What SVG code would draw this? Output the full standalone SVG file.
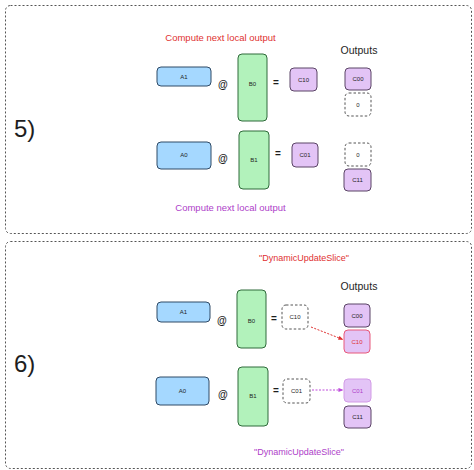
<svg xmlns="http://www.w3.org/2000/svg" width="474" height="470" viewBox="0 0 474 470">
<style>
text{font-family:"Liberation Sans",Arial,sans-serif;text-anchor:middle;dominant-baseline:central;fill:#1e1e1e}
.panel{fill:#fff;stroke:#555;stroke-width:1;stroke-dasharray:2 2}
.a{fill:#a5d8ff;stroke:#2f4a66;stroke-width:1}
.b{fill:#b2f2bb;stroke:#2f6a3a;stroke-width:1}
.c{fill:#e3c4f6;stroke:#5b4466;stroke-width:1}
.d{fill:#fff;stroke:#555;stroke-width:1;stroke-dasharray:2.5 2}
.lbl{font-size:6px}
.op{font-size:10px;font-weight:bold}
.num{font-size:24px;text-anchor:start}
.out{font-size:10.5px}
.red{fill:#e03131}
.pur{fill:#ae3ec9}
</style>
<defs>
<marker id="arR" viewBox="0 0 6 6" refX="5.5" refY="3" markerWidth="5" markerHeight="5" orient="auto"><path d="M0,0.5 L6,3 L0,5.5 z" fill="#e03131"/></marker>
<marker id="arP" viewBox="0 0 6 6" refX="5.5" refY="3" markerWidth="5" markerHeight="5" orient="auto"><path d="M0,0.5 L6,3 L0,5.5 z" fill="#be4bdb"/></marker>
</defs>

<rect class="panel" x="5.5" y="5.5" width="466" height="228" rx="5"/>
<rect class="panel" x="5.5" y="241.5" width="466" height="227" rx="5"/>

<!-- panel 5 -->
<text class="num" x="14" y="128">5)</text>
<text class="red" x="220.5" y="37" font-size="9.5">Compute next local output</text>
<text class="out" x="359" y="50">Outputs</text>
<text class="op" x="223" y="84">@</text>
<text class="op" x="276" y="82">=</text>
<text class="op" x="223" y="158">@</text>
<text class="op" x="278" y="153">=</text>
<text class="pur" x="230.5" y="207" font-size="9.5">Compute next local output</text>

<g id="p5_A1"><rect class="a" x="157" y="67" width="54" height="19" rx="4"/><text class="lbl" x="184" y="76.5">A1</text></g>
<g id="p5_B0"><rect class="b" x="238" y="54" width="29" height="67" rx="4"/><text class="lbl" x="252.5" y="84">B0</text></g>
<g id="p5_C10"><rect class="c" x="290" y="68" width="27" height="23" rx="4"/><text class="lbl" x="303.5" y="79.5">C10</text></g>
<g id="p5_C00"><rect class="c" x="345" y="68" width="26" height="22" rx="4"/><text class="lbl" x="358" y="79">C00</text></g>
<g id="p5_Z1"><rect class="d" x="345" y="93" width="26" height="23" rx="4"/><text class="lbl" x="358" y="104.5">0</text></g>
<g id="p5_A0"><rect class="a" x="157" y="142" width="54" height="27" rx="4"/><text class="lbl" x="184" y="155">A0</text></g>
<g id="p5_B1"><rect class="b" x="239" y="131" width="30" height="58" rx="4"/><text class="lbl" x="254" y="160">B1</text></g>
<g id="p5_C01"><rect class="c" x="292" y="143" width="26" height="24" rx="4"/><text class="lbl" x="305" y="155">C01</text></g>
<g id="p5_Z2"><rect class="d" x="345" y="143" width="26" height="23" rx="4"/><text class="lbl" x="358" y="154.5">0</text></g>
<g id="p5_C11"><rect class="c" x="344" y="169" width="27" height="22" rx="4"/><text class="lbl" x="357.5" y="180">C11</text></g>

<!-- panel 6 -->
<text class="num" x="14" y="363">6)</text>
<text class="red" x="304" y="258" font-size="9">"DynamicUpdateSlice"</text>
<text class="out" x="359" y="286">Outputs</text>
<text class="op" x="222" y="320">@</text>
<text class="op" x="274" y="318">=</text>
<text class="op" x="223" y="394">@</text>
<text class="op" x="276" y="390">=</text>
<text class="pur" x="299" y="452" font-size="9">"DynamicUpdateSlice"</text>

<g id="p6_A1"><rect class="a" x="157" y="302" width="53" height="20" rx="4"/><text class="lbl" x="183.5" y="312">A1</text></g>
<g id="p6_B0"><rect class="b" x="237" y="290" width="29" height="58" rx="4"/><text class="lbl" x="251.5" y="321">B0</text></g>
<g id="p6_C10t"><rect class="d" x="282" y="305" width="26" height="24" rx="4"/><text class="lbl" x="295" y="317">C10</text></g>
<g id="p6_C00"><rect class="c" x="344" y="304" width="26" height="23" rx="4"/><text class="lbl" x="357" y="315.5">C00</text></g>
<g id="p6_C10"><rect class="c" x="344" y="330" width="26" height="23" rx="4" style="stroke:#e8597a"/><text class="lbl red" x="357" y="341.5">C10</text></g>
<g id="p6_A0"><rect class="a" x="156" y="377" width="53" height="28" rx="4"/><text class="lbl" x="182.5" y="391">A0</text></g>
<g id="p6_B1"><rect class="b" x="238" y="367" width="30" height="59" rx="4"/><text class="lbl" x="253" y="396">B1</text></g>
<g id="p6_C01t"><rect class="d" x="283" y="379" width="27" height="24" rx="4"/><text class="lbl" x="296.5" y="391">C01</text></g>
<g id="p6_C01"><rect class="c" x="344" y="379" width="27" height="23" rx="4" style="stroke:#d29be6"/><text class="lbl pur" x="357.5" y="390.5">C01</text></g>
<g id="p6_C11"><rect class="c" x="344" y="406" width="27" height="22" rx="4"/><text class="lbl" x="357.5" y="417">C11</text></g>

<g id="connectors" fill="none" stroke-width="1" stroke-dasharray="2 1.5">
<path d="M311,327 L343,339.5" stroke="#e03131" marker-end="url(#arR)"/>
<path d="M312,390 L343,390" stroke="#be4bdb" marker-end="url(#arP)"/>
</g>
</svg>
